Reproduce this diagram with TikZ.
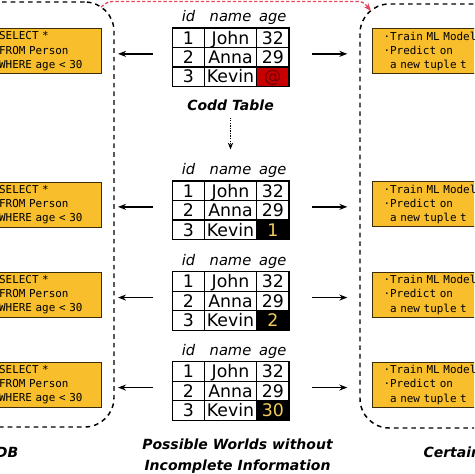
\documentclass[tikz,border=0pt]{standalone}
\usepackage{fontspec}
\setmainfont{DejaVu Sans}
\setmonofont{DejaVu Sans Mono}
\usepackage{xcolor}
\usetikzlibrary{positioning,calc,arrows.meta}

\definecolor{qfill}{RGB}{248,190,44}
\definecolor{qline}{RGB}{60,45,10}
\definecolor{nullred}{RGB}{200,0,0}
\definecolor{nulltxt}{RGB}{110,0,0}
\definecolor{gold}{RGB}{242,204,90}
\definecolor{linkred}{RGB}{228,70,95}

% one world table: #1 name, #2 top left corner, #3 style of the last age cell, #4 its value
\newcommand{\worldtab}[4]{
  \node[idcol,anchor=north west] (#1-id1) at (#2) {1};
  \node[namecol] (#1-nm1) [right=0pt of #1-id1] {John};
  \node[agecol] (#1-ag1) [right=0pt of #1-nm1] {32};
  \node[idcol] (#1-id2) [below=0pt of #1-id1] {2};
  \node[namecol] (#1-nm2) [right=0pt of #1-id2] {Anna};
  \node[agecol] (#1-ag2) [right=0pt of #1-nm2] {29};
  \node[idcol] (#1-id3) [below=0pt of #1-id2] {3};
  \node[namecol] (#1-nm3) [right=0pt of #1-id3] {Kevin};
  \node[agecol,#3] (#1-ag3) [right=0pt of #1-nm3] {#4};
  \node[hdr] (#1-hid) [above=5pt of #1-id1,anchor=base] {id};
  \node[hdr] (#1-hnm) [above=5pt of #1-nm1,anchor=base] {name};
  \node[hdr] (#1-hag) [above=5pt of #1-ag1,anchor=base] {age};
}

\begin{document}
\begin{tikzpicture}[x=0.75pt,y=-0.75pt,
    cell/.style={draw,line width=0.9pt,outer sep=0pt,inner sep=0pt,minimum height=14.6pt,
                 text height=9.5pt,text depth=0pt,font=\fontsize{13}{15}\selectfont},
    idcol/.style={cell,minimum width=23.7pt},
    namecol/.style={cell,minimum width=39.3pt},
    agecol/.style={cell,minimum width=24.2pt},
    nullcell/.style={fill=nullred,text=nulltxt},
    pwcell/.style={fill=black,text=gold},
    hdr/.style={font=\fontsize{11}{13}\selectfont\itshape},
    wtitle/.style={font=\fontsize{10.5}{15.5}\selectfont\bfseries\itshape},
    query/.style={draw=qline,fill=qfill,line width=0.8pt,inner ysep=0pt,minimum height=33.75pt,
                  align=left,font=\ttfamily\fontsize{8.2}{10.7}\selectfont},
    worldbox/.style={draw,dash pattern=on 3.5pt off 3pt,line width=1.1pt,rounded corners=22pt,
                     inner sep=0pt,outer sep=0pt},
    arr/.style={-{Stealth[length=6pt,width=4.5pt]},line width=1pt},
    dotarr/.style={-{Stealth[length=5pt,width=4pt]},densely dotted,line width=0.9pt},
    link/.style={-{Stealth[length=6pt,width=4.5pt]},linkred,dash pattern=on 2.5pt off 1.5pt,
                 line width=1pt,rounded corners=3pt}]

  \useasboundingbox (0,0) rectangle (474,474);
  \clip (0,0) rectangle (474,474);

  \node[worldbox,minimum width=115.5pt,minimum height=318.75pt] (db) at (37,214.5) {};
  \node[worldbox,minimum width=120pt,minimum height=318pt] (cert) at (440,216) {};

  \worldtab{codd}{172.7,28}{nullcell}{@}
  \worldtab{w1}{172.7,181}{pwcell}{1}
  \worldtab{w2}{172.7,271.7}{pwcell}{2}
  \worldtab{w3}{172.7,361.7}{pwcell}{30}

  \node[wtitle,anchor=base] (codd) [below=17.8pt of codd-nm3,anchor=base] {Codd Table};
  \node[wtitle,align=center] (pw) [below=10.5pt of w3-nm3,xshift=5.25pt] {Possible Worlds without\\Incomplete Information};
  \node[wtitle,anchor=base east,inner sep=0pt] (dbname) at (18.5,457) {DB};
  \node[wtitle,anchor=base west,inner sep=0pt] (certname) at (423.3,457) {Certain};

  \node[query,anchor=north east,text width=75.5pt,inner xsep=1.5pt] (q1) at (102.3,28.3) {SELECT *\\FROM Person\\WHERE age < 30};
  \node[query,anchor=north east,text width=75.5pt,inner xsep=1.5pt] (q2) at (102.3,181.5) {SELECT *\\FROM Person\\WHERE age < 30};
  \node[query,anchor=north east,text width=75.5pt,inner xsep=1.5pt] (q3) at (102.3,271.7) {SELECT *\\FROM Person\\WHERE age < 30};
  \node[query,anchor=north east,text width=75.5pt,inner xsep=1.5pt] (q4) at (102.3,361.7) {SELECT *\\FROM Person\\WHERE age < 30};

  \node[query,anchor=north west,text width=82pt,inner xsep=8pt] (m1) at (372.3,28.3) {·Train ML Model\\·Predict on\\\hphantom{·}a new tuple t};
  \node[query,anchor=north west,text width=82pt,inner xsep=8pt] (m2) at (372.3,181.3) {·Train ML Model\\·Predict on\\\hphantom{·}a new tuple t};
  \node[query,anchor=north west,text width=82pt,inner xsep=8pt] (m3) at (372.3,271.7) {·Train ML Model\\·Predict on\\\hphantom{·}a new tuple t};
  \node[query,anchor=north west,text width=82pt,inner xsep=8pt] (m4) at (372.3,361.7) {·Train ML Model\\·Predict on\\\hphantom{·}a new tuple t};

  % tables to queries and to models
  \draw[arr,shorten <=14.5pt,shorten >=3pt] ([yshift=2.5pt]codd-id2.west) -- ([yshift=2.5pt]codd-id2.west -| db.east);
  \draw[arr,shorten <=14.5pt,shorten >=3pt] ([yshift=2.5pt]w1-id2.west) -- ([yshift=2.5pt]w1-id2.west -| db.east);
  \draw[arr,shorten <=14.5pt,shorten >=3pt] ([yshift=2.5pt]w2-id2.west) -- ([yshift=2.5pt]w2-id2.west -| db.east);
  \draw[arr,shorten <=14.5pt,shorten >=3pt] ([yshift=2.5pt]w3-id2.west) -- ([yshift=2.5pt]w3-id2.west -| db.east);
  \draw[arr,shorten <=17pt,shorten >=9.5pt] ([yshift=2.5pt]codd-ag2.east) -- ([yshift=2.5pt]codd-ag2.east -| cert.west);
  \draw[arr,shorten <=17pt,shorten >=9.5pt] ([yshift=2.5pt]w1-ag2.east) -- ([yshift=2.5pt]w1-ag2.east -| cert.west);
  \draw[arr,shorten <=17pt,shorten >=9.5pt] ([yshift=2.5pt]w2-ag2.east) -- ([yshift=2.5pt]w2-ag2.east -| cert.west);
  \draw[arr,shorten <=17pt,shorten >=9.5pt] ([yshift=2.5pt]w3-ag2.east) -- ([yshift=2.5pt]w3-ag2.east -| cert.west);

  \draw[dotarr,shorten <=2pt,shorten >=9pt] (codd.south) -- (w1-hnm.north);

  \coordinate (dbcorner) at (101,7);
  \coordinate (certcorner) at (371,11);
  \draw[link] (dbcorner) -- ++(7,-5.5) -- ($(certcorner)+(-8,-9.5)$) -- (certcorner);

\end{tikzpicture}
\end{document}
